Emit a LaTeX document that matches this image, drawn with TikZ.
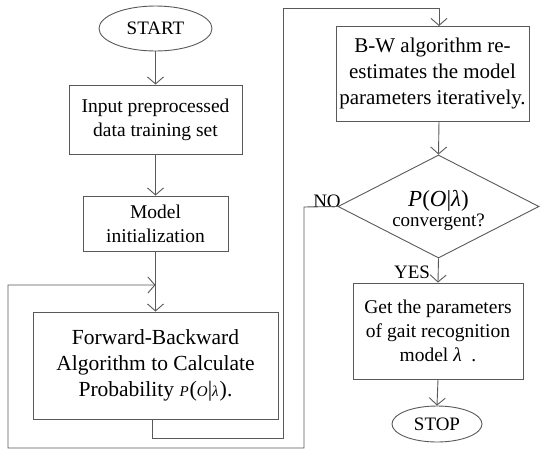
\documentclass[tikz,border=0pt]{standalone}
\usepackage{fontspec}
\setmainfont{Liberation Serif}
\usetikzlibrary{shapes.geometric,arrows.meta,calc}
\begin{document}
\begin{tikzpicture}[x=1pt,y=-1pt,
  line/.style={draw=black!65,line width=0.9pt},
  arr/.style={line,-{Straight Barb[length=7pt,width=16pt,line width=0.9pt]}},
  box/.style={line,rectangle,inner sep=0pt,align=center,font=\fontsize{19.5}{24}\selectfont},
  bigbox/.style={box,font=\fontsize{21}{26}\selectfont},
  term/.style={line,ellipse,inner sep=0pt,font=\fontsize{19}{24}\selectfont},
  lab/.style={inner sep=0pt,font=\fontsize{19}{24}\selectfont}]
\useasboundingbox (0,0) rectangle (550,456);
\node[term,minimum width=113pt,minimum height=45pt] (start) at (155.5,28.5) {START};
\node[box,minimum width=173pt,minimum height=69pt] (b1) at (155.5,119.5) {Input preprocessed\\data training set};
\node[box,minimum width=145pt,minimum height=55pt] (b2) at (155.5,223.5) {Model\\initialization};
\node[bigbox,font=\fontsize{21.5}{26}\selectfont,minimum width=245pt,minimum height=107pt] (b3) at (155.5,365.5) {Forward-Backward\\Algorithm to Calculate\\Probability {\fontsize{15}{18}\selectfont\itshape P}\kern1pt{\fontsize{22}{24}\selectfont(}{\fontsize{15}{18}\selectfont\itshape O}{\fontsize{22}{24}\selectfont|}{\fontsize{15}{18}\selectfont\itshape λ}\kern1pt{\fontsize{22}{24}\selectfont)}.};
\node[bigbox,minimum width=193pt,minimum height=95pt] (b4) at (432.5,73.5) {B-W algorithm re-\\estimates the model\\parameters iteratively.};
\node[line,diamond,aspect=2,inner sep=0pt,minimum width=201pt,minimum height=103pt] (d) at (438.5,206.5) {};
\node[lab,align=center] (dt) at (438.5,210) {{\fontsize{23}{24}\selectfont\itshape P}{\fontsize{23}{24}\selectfont(}{\fontsize{23}{24}\selectfont\itshape O}{\fontsize{23}{24}\selectfont|}{\fontsize{23}{24}\selectfont\itshape λ}{\fontsize{23}{24}\selectfont)}\\[-4pt]convergent?};
\node[box,minimum width=170pt,minimum height=96pt] (b5) at (438,331) {Get the parameters\\of gait recognition\\model {\itshape λ}~~.};
\node[term,minimum width=90pt,minimum height=36pt] (stop) at (437,424) {STOP};
\node[lab] (no) at (327,201) {NO};
\node[lab] (yes) at (412,272) {YES};
\draw[arr] (start) -- (b1);
\draw[arr] (b1) -- (b2);
\draw[arr] (b2) -- (b3);
\coordinate (j) at (155.5,285);
\draw[arr] (d.west) -- (304,207) -- (304,448) -- (8,448) -- (8,285) -- (j);
\draw[arr] ([xshift=-3.5pt]b3.south) -- (152,438) -- (283,438) -- (283,8) -- (439,8) -- (439,26);
\draw[arr] (439,121) -- (d.north);
\draw[arr] (d.south) -- (b5.north);
\draw[arr] (b5.south) -- (stop.north);
\end{tikzpicture}
\end{document}
